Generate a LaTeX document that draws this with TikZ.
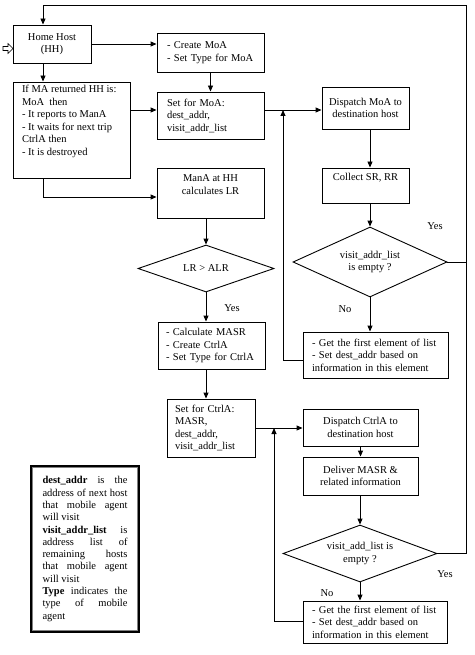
\documentclass[tikz,border=0pt]{standalone}
\usepackage{fontspec}
\setmainfont{Liberation Serif}
\usetikzlibrary{shapes.geometric,arrows.meta}
\begin{document}
\begin{tikzpicture}[x=1pt,y=-1pt,
  every node/.style={font=\fontsize{10.5}{12.5}\selectfont},
  box/.style={draw, line width=0.9pt, rectangle, inner sep=0pt},
  dia/.style={draw, line width=0.9pt, diamond, inner sep=0pt, align=center},
  arr/.style={line width=0.9pt, -{Triangle[length=6pt,width=5pt]}},
  ln/.style={line width=0.9pt},
  lbl/.style={inner sep=0pt}]
\useasboundingbox (0,0) rectangle (474,655);

% coordinates for connector routes
\coordinate (colA) at (43,0);
\coordinate (colD) at (370,0);
\coordinate (colE) at (360,0);
\coordinate (rowB) at (0,110);
\coordinate (rowC) at (0,360);
\coordinate (rowD) at (0,197);
\coordinate (rowF) at (0,621);
\coordinate (loopTR) at (466,5);
\coordinate (loopTL) at (43,5);
\coordinate (fbA) at (283,0);
\coordinate (fbB) at (274,0);

% boxes
\node[box, minimum width=78, minimum height=38, align=center] (hh) at (52,44) {Home Host\\(HH)};
\node[box, minimum width=117, minimum height=96] (ifbox) at (71.5,130)
  {\begin{minipage}[t][89pt][t]{99pt}\raggedright
   If MA returned HH is:\\MoA\ \ then\\- It reports to ManA\\- It waits for next trip\\CtrlA then\\- It is destroyed\end{minipage}};
\node[box, minimum width=107, minimum height=39, text width=87, align=left] (create) at (210.5,52.5)
  {- Create MoA\\- Set Type for MoA};
\node[box, minimum width=107, minimum height=47, text width=87, align=left] (setmoa) at (210.5,115.5)
  {Set for MoA:\\dest\_addr,\\visit\_addr\_list};
\node[box, minimum width=107, minimum height=50] (mana) at (210.5,193)
  {\begin{minipage}[t][36pt][t]{100pt}\centering ManA at HH\\calculates LR\end{minipage}};
\node[box, minimum width=87, minimum height=42, align=center] (dmoa) at (365.5,108)
  {Dispatch MoA to\\destination host};
\node[box, minimum width=87, minimum height=35] (collect) at (365.5,185.5)
  {\begin{minipage}[t][24pt][t]{80pt}\centering Collect SR, RR\end{minipage}};
\node[dia, minimum width=154, minimum height=70, aspect=2.2] (d1) at (370,262)
  {visit\_addr\_list\\is empty ?};
\node[box, minimum width=145, minimum height=46, text width=127, align=left] (get1) at (375.5,355)
  {- Get the first element of list\\- Set dest\_addr based on\\information in this element};
\node[dia, minimum width=136, minimum height=47, aspect=3] (lr) at (206,268.5) {LR > ALR};
\node[box, minimum width=107, minimum height=47, text width=91, align=left] (calc) at (211.5,345.5)
  {- Calculate MASR\\- Create CtrlA\\- Set Type for CtrlA};
\node[box, minimum width=88, minimum height=58, text width=72, align=left] (setc) at (211,428)
  {Set for CtrlA:\\MASR,\\dest\_addr,\\visit\_addr\_list};
\node[box, minimum width=115, minimum height=37, align=center] (dctrl) at (360.5,427.5)
  {Dispatch CtrlA to\\destination host};
\node[box, minimum width=115, minimum height=38, align=center] (deliver) at (360.5,476)
  {Deliver MASR \&\\related information};
\node[dia, minimum width=154, minimum height=57, aspect=2.7] (d2) at (360,553.5)
  {visit\_add\_list is\\empty ?};
\node[box, minimum width=144, minimum height=42, text width=126, align=left] (get2) at (375,622)
  {- Get the first element of list\\- Set dest\_addr based on\\information in this element};

% legend
\node[draw, line width=3pt, rectangle, inner sep=0pt, minimum width=107, minimum height=165] (legend) at (85,549)
  {\begin{minipage}{85pt}\fontsize{10.5}{12.3}\selectfont
   \makebox[85pt][s]{\textbf{dest\_addr} is the}\\
   \makebox[85pt][s]{address of next host}\\
   \makebox[85pt][s]{that mobile agent}\\
   will visit\\
   \makebox[85pt][s]{\textbf{visit\_addr\_list} is}\\
   \makebox[85pt][s]{address list of}\\
   \makebox[85pt][s]{remaining hosts}\\
   \makebox[85pt][s]{that mobile agent}\\
   will visit\\
   \makebox[85pt][s]{\textbf{Type} indicates the}\\
   \makebox[85pt][s]{type of mobile}\\
   agent\end{minipage}};
\draw[gray, line width=0.7pt] ([xshift=2.2pt,yshift=-2.2pt]legend.north west) rectangle ([xshift=-2.2pt,yshift=2.2pt]legend.south east);

% input arrow
\draw[line width=0.6pt] (3,46.5) -- (8,46.5) -- (8,43.5) -- (13,48.5) -- (8,53.5) -- (8,50.5) -- (3,50.5) -- cycle;

% labels
\node[lbl] (yes1) at (435,226) {Yes};
\node[lbl] (no1) at (345,309) {No};
\node[lbl] (yes2) at (232,308) {Yes};
\node[lbl] (yes3) at (445,574) {Yes};
\node[lbl] (no2) at (327,593) {No};

% connectors
\draw[arr] (d2.east) -- (d2.east -| loopTR) -- (loopTR) -- (loopTL) -- (colA |- hh.north);
\draw[ln] (d1.east) -- (d1.east -| loopTR);
\draw[arr] (hh.east) -- (hh.east -| create.west);
\draw[arr] (colA |- hh.south) -- (colA |- ifbox.north);
\draw[arr] (create.south) -- (setmoa.north);
\draw[arr] (ifbox.east |- rowB) -- (setmoa.west |- rowB);
\draw[arr] (setmoa.east |- rowB) -- (dmoa.west |- rowB);
\draw[arr] (get1.west |- rowC) -- (fbA |- rowC) -- (fbA |- rowB);
\draw[arr] (colD |- dmoa.south) -- (colD |- collect.north);
\draw[arr] (colD |- collect.south) -- (d1.north);
\draw[arr] (d1.south) -- (colD |- get1.north);
\draw[arr] (colA |- ifbox.south) -- (colA |- rowD) -- (mana.west |- rowD);
\draw[arr] (mana.south -| lr.north) -- (lr.north);
\draw[arr] (lr.south) -- (lr.south |- calc.north);
\draw[arr] (lr.south |- calc.south) -- (lr.south |- setc.north);
\draw[arr] (setc.east) -- (setc.east -| dctrl.west);
\draw[arr] (get2.west |- rowF) -- (fbB |- rowF) -- (fbB |- setc.east);
\draw[arr] (dctrl.south) -- (deliver.north);
\draw[arr] (colE |- deliver.south) -- (d2.north);
\draw[arr] (d2.south) -- (colE |- get2.north);
\end{tikzpicture}
\end{document}
